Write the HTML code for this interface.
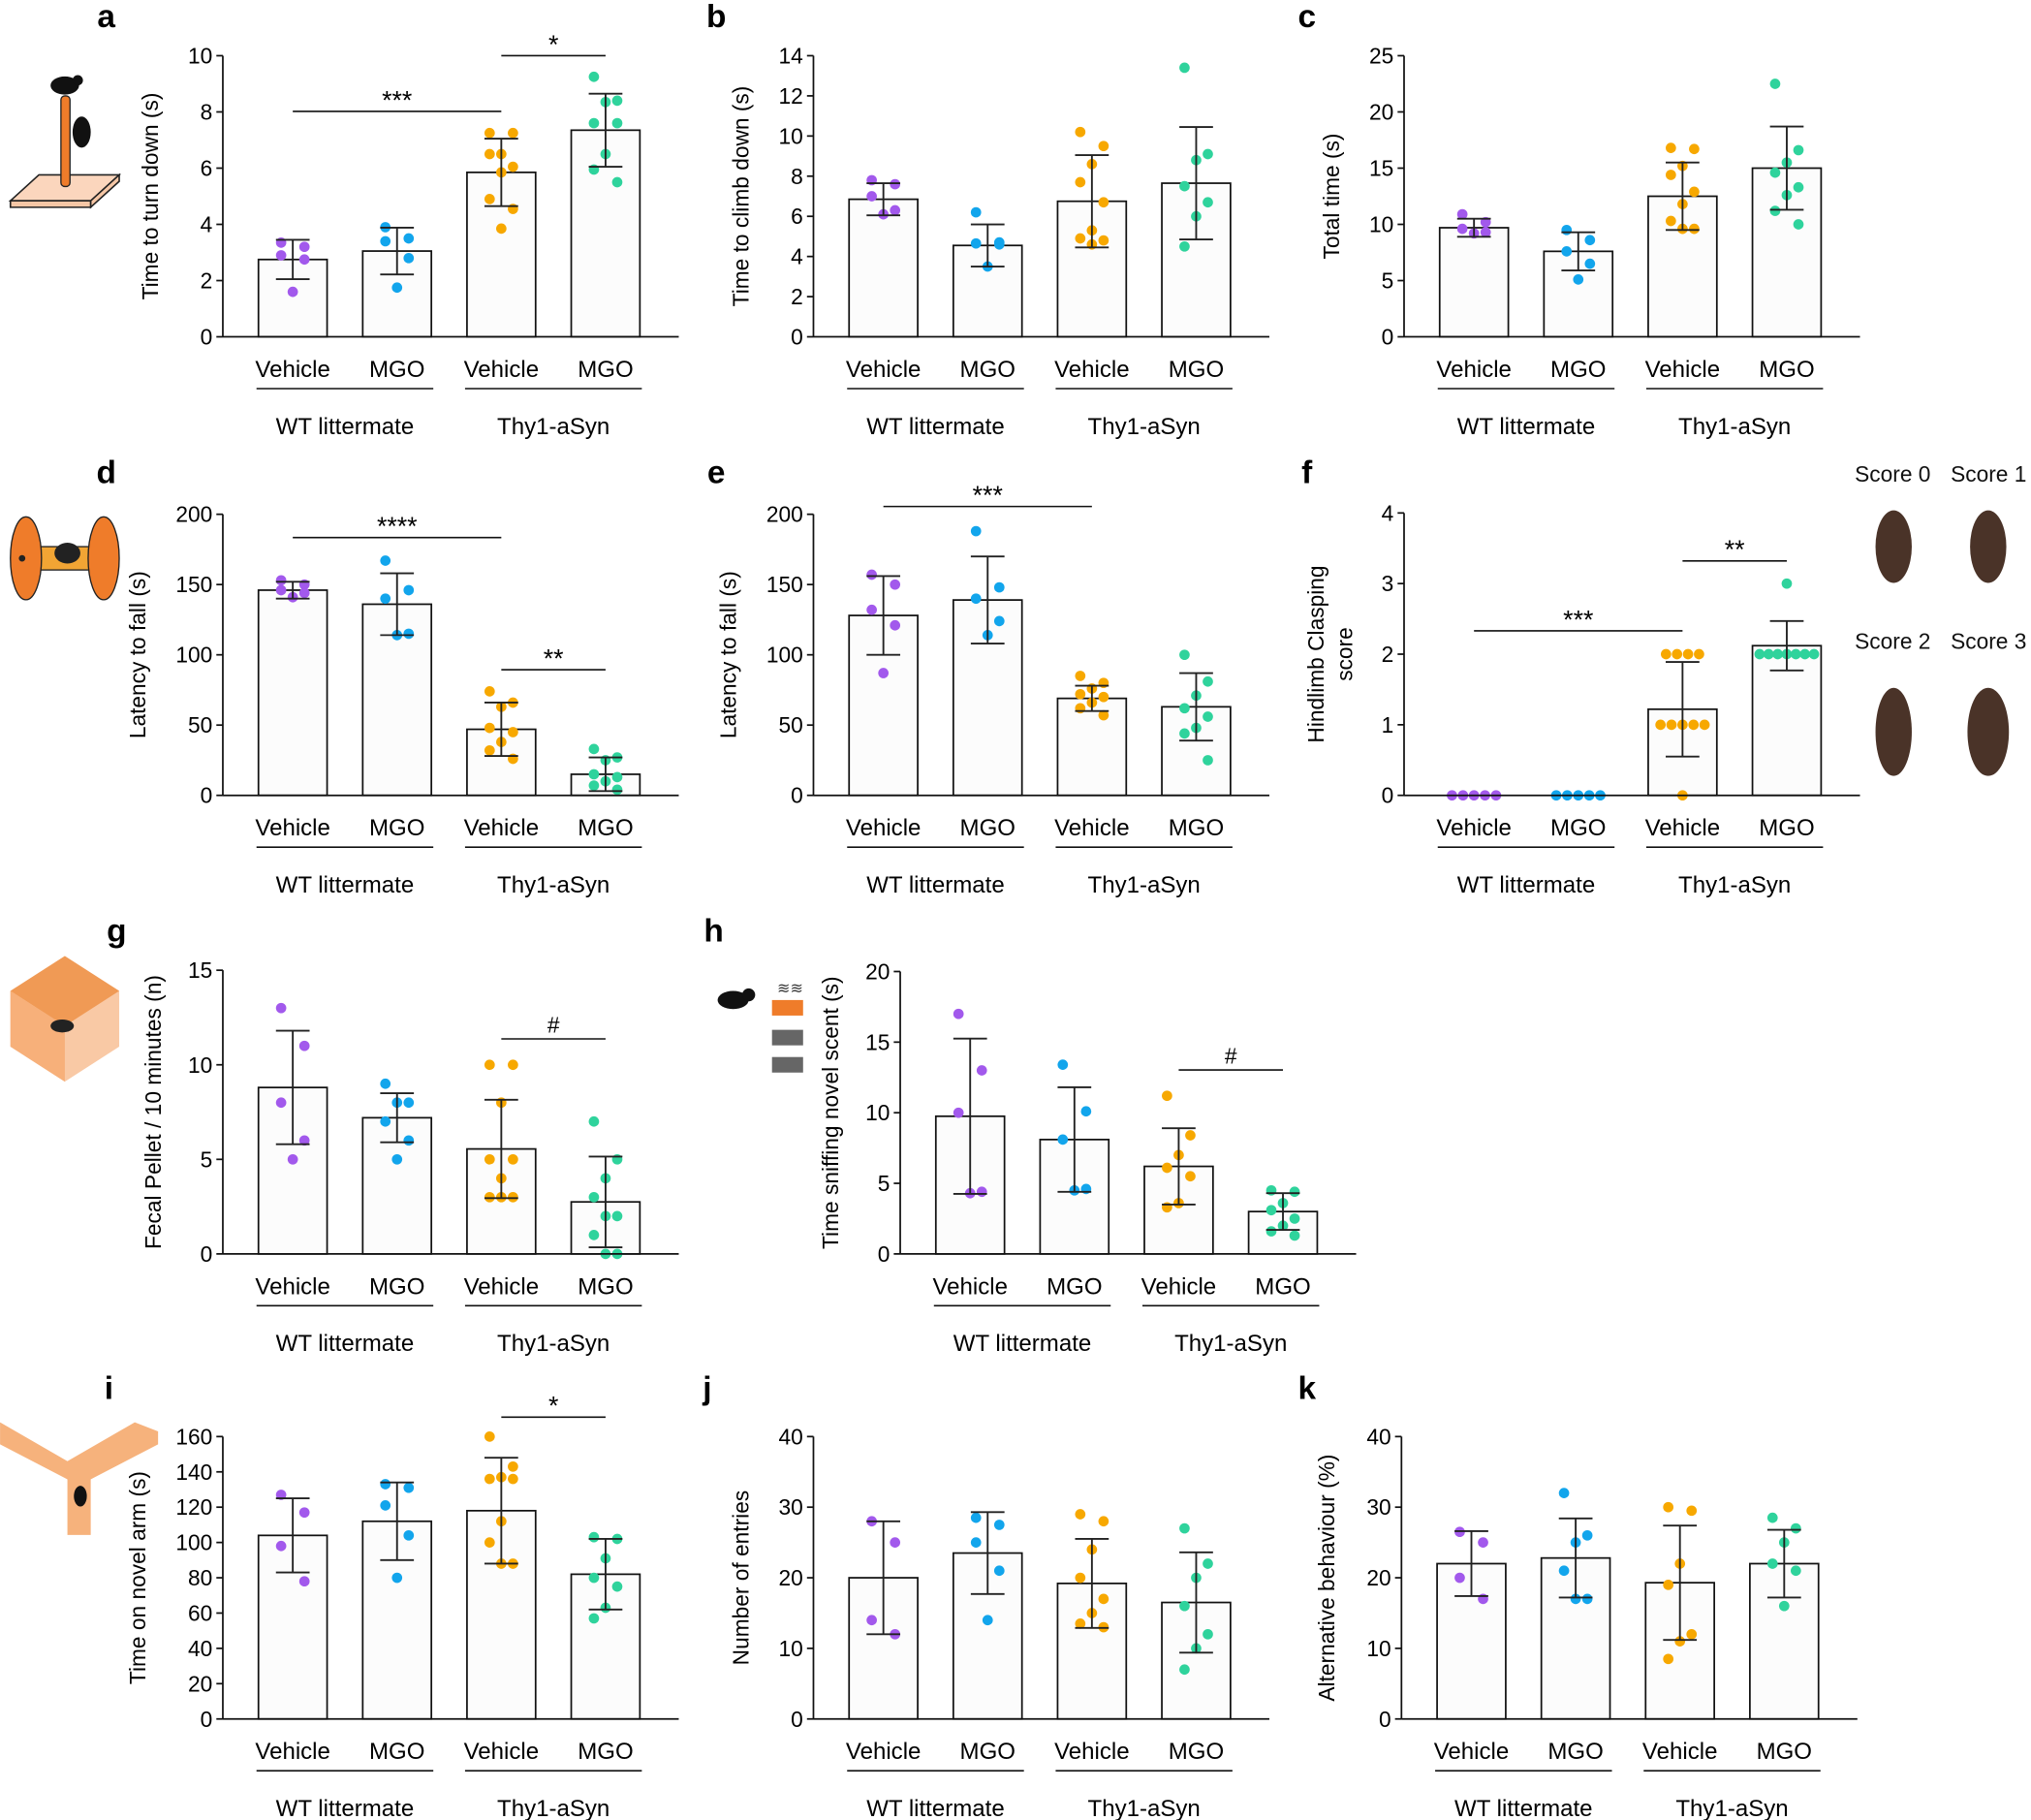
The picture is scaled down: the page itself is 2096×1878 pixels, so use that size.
<!DOCTYPE html>
<html><head><meta charset="utf-8">
<style>
html,body{margin:0;padding:0;background:#fff;}
svg{display:block;font-family:"Liberation Sans",Arial,sans-serif;}
</style></head>
<body>
<svg id="fig" xmlns="http://www.w3.org/2000/svg" width="2096" height="1878" viewBox="0 0 1568 1405">
<rect width="1568" height="1405" fill="#fff"/>
<g>
  <polygon points="8,155 30,135 92,135 70,155" fill="#fbd6bd" stroke="#222" stroke-width="1.2"/>
  <polygon points="8,155 70,155 70,160 8,160" fill="#f5c6a5" stroke="#222" stroke-width="1.2"/>
  <polygon points="70,155 92,135 92,140 70,160" fill="#f5c6a5" stroke="#222" stroke-width="1.2"/>
  <rect x="47" y="74" width="7" height="70" rx="3" fill="#ef7c2a" stroke="#222"/>
  <ellipse cx="50" cy="66" rx="11" ry="7" fill="#111"/><circle cx="60" cy="62" r="4" fill="#111"/>
  <ellipse cx="63" cy="102" rx="7" ry="12" fill="#111"/>
</g>
<g>
  <rect x="20" y="422" width="60" height="18" fill="#f2a534" stroke="#222"/>
  <ellipse cx="20" cy="431" rx="12" ry="32" fill="#ef7c2a" stroke="#222"/>
  <ellipse cx="80" cy="431" rx="12" ry="32" fill="#ef7c2a" stroke="#222"/>
  <circle cx="17" cy="431" r="2.5" fill="#222"/>
  <ellipse cx="52" cy="427" rx="10" ry="8" fill="#222"/>
</g>
<g>
  <polygon points="50,738 92,765 92,808 50,835 8,808 8,765" fill="#f9c9a5"/>
  <polygon points="50,738 92,765 50,792 8,765" fill="#f09a55"/>
  <polygon points="8,765 50,792 50,835 8,808" fill="#f7b07a"/>
  <ellipse cx="48" cy="792" rx="9" ry="5" fill="#222"/>
</g>
<g>
  <ellipse cx="566" cy="772" rx="12" ry="7" fill="#111"/><circle cx="578" cy="768" r="5" fill="#111"/>
  <rect x="596" y="772" width="24" height="12" fill="#ef7c2a"/>
  <rect x="596" y="795" width="24" height="12" fill="#666"/>
  <rect x="596" y="816" width="24" height="12" fill="#666"/>
  <text x="600" y="767" font-size="12" fill="#333">≋≋</text>
</g>
<g>
  <polygon points="0,1098 52,1128 104,1098 122,1105 122,1115 70,1142 70,1185 52,1185 52,1142 0,1115" fill="#f6b27c"/>
  <ellipse cx="62" cy="1155" rx="5" ry="8" fill="#111"/>
</g>
<g font-size="17" fill="#111">
  <text x="1432" y="372">Score 0</text><text x="1506" y="372">Score 1</text>
  <text x="1432" y="501">Score 2</text><text x="1506" y="501">Score 3</text>
  <ellipse cx="1462" cy="422" rx="14" ry="28" fill="#4a3328"/>
  <ellipse cx="1535" cy="422" rx="14" ry="28" fill="#4a3328"/>
  <ellipse cx="1462" cy="565" rx="14" ry="34" fill="#4a3328"/>
  <ellipse cx="1535" cy="565" rx="16" ry="34" fill="#4a3328"/>
</g>
<g id="panels"></g>
</svg>
<script>
const groups = ["Vehicle","MGO","Vehicle","MGO"];
const genotypes = ["WT littermate","Thy1-aSyn"];
const colors = ["#a259ec","#12a5ec","#f7a800","#2fd39c"];
const aMeans=[2.75,3.05,5.85,7.35], aSD=[0.7,0.83,1.2,1.3];
const aPts=[[3.35,3.2,2.9,2.75,1.6],[3.9,3.4,3.5,2.8,1.75],[7.25,7.25,6.5,6.5,6.05,5.85,4.9,4.55,3.85],[9.25,8.4,8.35,7.6,7.6,6.5,5.95,5.5]];
const bMeans=[6.85,4.55,6.75,7.65], bSD=[0.8,1.05,2.3,2.8];
const bPts=[[7.8,7.6,7.0,6.3,6.1],[6.2,4.7,4.6,4.65,3.5],[10.2,9.5,8.6,7.7,6.7,5.3,4.9,4.8,4.6],[13.4,9.1,8.8,7.5,6.7,6.0,4.5]];
const cMeans=[9.7,7.6,12.5,15.0], cSD=[0.8,1.7,3.0,3.7];
const cPts=[[10.9,10.2,9.6,9.3,9.2],[9.5,8.6,7.6,6.5,5.1],[16.8,16.7,15.2,14.4,12.9,11.8,10.3,9.6,9.6],[22.5,16.6,15.5,14.6,13.3,12.6,11.2,10.0]];
const dMeans=[146,136,47,15], dSD=[6,22,19,12];
const dPts=[[153,150,146,144,141],[167,146,140,115,114],[74,66,63,48,45,38,32,26],[33,27,25,15,13,10,7,4]];
const eMeans=[128,139,69,63], eSD=[28,31,9,24];
const ePts=[[157,150,132,121,87],[188,148,140,124,114],[85,80,76,72,70,66,62,57],[100,81,71,62,56,48,44,25]];
const fMeans=[0,0,1.22,2.12], fSD=[0,0,0.67,0.35];
const fPts=[[0,0,0,0,0],[0,0,0,0,0],[2,2,2,2,1,1,1,1,1,0],[3,2,2,2,2,2,2,2]];
const gMeans=[8.8,7.2,5.55,2.75], gSD=[3.0,1.3,2.6,2.4];
const gPts=[[13,11,8,6,5],[9,8,8,7,6,5],[10,10,8,5,5,4,3,3,3],[7,5,4,3,2,2,1,0,0]];
const hMeans=[9.75,8.1,6.2,3.0], hSD=[5.5,3.7,2.7,1.3];
const hPts=[[17,13,10,4.4,4.3],[13.4,10.1,8.1,4.6,4.5],[11.2,8.4,7.0,6.1,5.5,3.6,3.3],[4.5,4.4,3.6,3.1,2.5,2.0,1.6,1.3]];
const iMeans=[104,112,118,82], iSD=[21,22,30,20];
const iPts=[[127,117,98,78],[133,131,121,104,80],[160,143,137,136,136,112,100,88,88],[103,102,91,80,75,63,57]];
const jMeans=[20,23.5,19.2,16.5], jSD=[8,5.8,6.3,7.1];
const jPts=[[28,25,14,12],[28.5,27.5,25,21,14],[29,28,24,20,17,15,13.5,13],[27,22,20,16,12,10,7]];
const kMeans=[22,22.8,19.3,22], kSD=[4.6,5.6,8.1,4.8];
const kPts=[[26.5,25,20,17],[32,26,25,21,17,17],[30,29.5,22,19,12,11,8.5],[28.5,27,25,22,21,16]];

const ns="http://www.w3.org/2000/svg";
const root=document.getElementById('panels');
function el(tag,attrs,parent,txt){const e=document.createElementNS(ns,tag);for(const k in attrs)e.setAttribute(k,attrs[k]);if(txt!==undefined)e.textContent=txt;(parent||root).appendChild(e);return e;}

const panels=[
 {id:'a',lx:82,ly:21,ax:172,top:43,bot:260,max:10,step:2,title:'Time to turn down (s)',tx:122,m:aMeans,s:aSD,p:aPts,sig:[[0,2,86,'***'],[2,3,43,'*']]},
 {id:'b',lx:553,ly:21,ax:628,top:43,bot:260,max:14,step:2,title:'Time to climb down (s)',tx:578,m:bMeans,s:bSD,p:bPts,sig:[]},
 {id:'c',lx:1009,ly:21,ax:1084,top:43,bot:260,max:25,step:5,title:'Total time (s)',tx:1034,m:cMeans,s:cSD,p:cPts,sig:[]},
 {id:'d',lx:82,ly:373,ax:172,top:397,bot:614,max:200,step:50,title:'Latency to fall (s)',tx:112,m:dMeans,s:dSD,p:dPts,sig:[[0,2,415,'****'],[2,3,517,'**']]},
 {id:'e',lx:553,ly:373,ax:628,top:397,bot:614,max:200,step:50,title:'Latency to fall (s)',tx:568,m:eMeans,s:eSD,p:ePts,sig:[[0,2,391,'***']]},
 {id:'f',lx:1009,ly:373,ax:1084,top:396,bot:614,max:4,step:1,title:'Hindlimb Clasping',title2:'score',tx:1022,m:fMeans,s:fSD,p:fPts,sig:[[0,2,487,'***'],[2,3,433,'**']]},
 {id:'g',lx:90,ly:727,ax:172,top:749,bot:968,max:15,step:5,title:'Fecal Pellet / 10 minutes (n)',tx:124,m:gMeans,s:gSD,p:gPts,sig:[[2,3,802,'#']]},
 {id:'h',lx:551,ly:727,ax:695,top:750,bot:968,max:20,step:5,title:'Time sniffing novel scent (s)',tx:647,m:hMeans,s:hSD,p:hPts,sig:[[2,3,826,'#']]},
 {id:'i',lx:84,ly:1080,ax:172,top:1109,bot:1327,max:160,step:20,title:'Time on novel arm (s)',tx:112,m:iMeans,s:iSD,p:iPts,sig:[[2,3,1094,'*']]},
 {id:'j',lx:546,ly:1080,ax:628,top:1109,bot:1327,max:40,step:10,title:'Number of entries',tx:578,m:jMeans,s:jSD,p:jPts,sig:[]},
 {id:'k',lx:1009,ly:1080,ax:1082,top:1109,bot:1327,max:40,step:10,title:'Alternative behaviour (%)',tx:1030,m:kMeans,s:kSD,p:kPts,sig:[]},
];

panels.forEach(P=>{
  const g=el('g',{});
  
  
  const y=v=>P.bot-(v/P.max)*(P.bot-P.top);
  const cx=i=>P.ax+54+i*80.5;
  const bw=53;
  const lt=el('text',{x:P.lx,y:P.ly,'font-size':25,'font-weight':'bold','text-anchor':'middle'},g,P.id);
  
  
  const ya=el('line',{x1:P.ax,y1:P.top,x2:P.ax,y2:P.bot,stroke:'#111','stroke-width':1.3},g);
  
  
  for(let v=0;v<=P.max+1e-9;v+=P.step){
    el('line',{x1:P.ax-5,y1:y(v),x2:P.ax,y2:y(v),stroke:'#111','stroke-width':1.3},g);
    const t=el('text',{x:P.ax-8,y:y(v)+6,'font-size':17,'text-anchor':'end'},g,String(v));
    
    
  }
  const ymid=(P.top+P.bot)/2;
  const t=el('text',{x:P.tx,y:ymid,'font-size':17,'text-anchor':'middle',transform:`rotate(-90 ${P.tx} ${ymid})`},g,P.title);
  
  
  if(P.title2){
    el('text',{x:P.tx+22,y:ymid,'font-size':17,'text-anchor':'middle',transform:`rotate(-90 ${P.tx+22} ${ymid})`},g,P.title2);
  }
  P.m.forEach((mv,i)=>{
    const r=el('rect',{x:cx(i)-bw/2,y:y(mv),width:bw,height:P.bot-y(mv),fill:'#fcfcfc',stroke:'#111','stroke-width':1.3},g);
    
    
  });
  P.p.forEach((arr,i)=>{
    const pts=arr.slice().sort((a,b)=>b-a);
    const counts={},seen={};
    pts.forEach(v=>counts[v]=(counts[v]||0)+1);
    pts.forEach((v,k)=>{
      let off;
      if(P.id==='f'){
        const n=counts[v]; const idx=seen[v]=(seen[v]===undefined?0:seen[v]+1);
        off=(idx-(n-1)/2)*(n>5?7:8.5);
      } else if(pts.length<=5) off=[-9,9,-9,9,0][k];
      else off=[-9,9,0,-9,9,0,-9,9,0][k%9];
      const c=el('circle',{cx:cx(i)+off,cy:y(v),r:4,fill:colors[i]},g);
      
      
    });
  });
  P.m.forEach((mv,i)=>{
    const sd=P.s[i]; if(sd===0) return;
    const x=cx(i);
    const e=el('path',{d:`M${x},${y(mv-sd)}V${y(mv+sd)}M${x-13},${y(mv+sd)}H${x+13}M${x-13},${y(mv-sd)}H${x+13}`,stroke:'#222','stroke-width':1.4,fill:'none'},g);
    
    
  });
  const xa=el('line',{x1:P.ax,y1:P.bot,x2:P.ax+352,y2:P.bot,stroke:'#111','stroke-width':1.3},g);
  
  
  groups.forEach((lab,i)=>{
    const t=el('text',{x:cx(i),y:P.bot+31,'font-size':18,'text-anchor':'middle'},g,lab);
    
    
  });
  genotypes.forEach((lab,k)=>{
    const x1=cx(2*k)-28,x2=cx(2*k+1)+28;
    el('line',{x1:x1,y1:P.bot+40,x2:x2,y2:P.bot+40,stroke:'#111','stroke-width':1.2},g);
    const t=el('text',{x:(x1+x2)/2,y:P.bot+75,'font-size':18,'text-anchor':'middle'},g,lab);
    
    
  });
  P.sig.forEach(([a,b,yy,s])=>{
    el('line',{x1:cx(a),y1:yy,x2:cx(b),y2:yy,stroke:'#111','stroke-width':1.2},g);
    const t=el('text',{x:(cx(a)+cx(b))/2,y:s==='#'?yy-5:yy-2,'font-size':s==='#'?17:20,'text-anchor':'middle'},g,s);
    
    
  });
});
</script>
</body></html>
